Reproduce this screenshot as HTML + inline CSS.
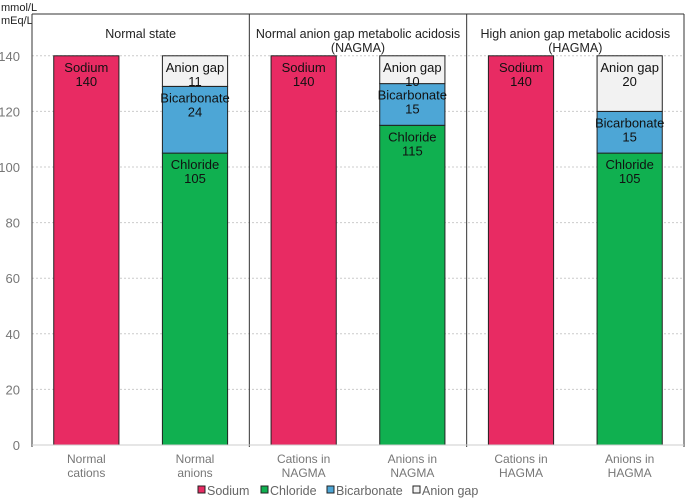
<!DOCTYPE html>
<html><head><meta charset="utf-8"><style>
body{margin:0;background:#fff;font-family:"Liberation Sans",sans-serif}
svg text{font-family:"Liberation Sans",sans-serif}
</style></head><body>
<svg id="chart" width="685" height="498" xmlns="http://www.w3.org/2000/svg">
<text x="1" y="11" font-size="11" fill="#222">mmol/L</text>
<text x="1" y="24" font-size="11" fill="#222">mEq/L</text>
<g id="grid"></g>
<g id="bars"></g>
<g id="labels"></g>
<g id="frame"></g>
</svg>
<script>
const categories=["Normal cations","Normal anions","Cations in NAGMA","Anions in NAGMA","Cations in HAGMA","Anions in HAGMA"];
const catLines=[["Normal","cations"],["Normal","anions"],["Cations in","NAGMA"],["Anions in","NAGMA"],["Cations in","HAGMA"],["Anions in","HAGMA"]];
const sodium=[140,0,140,0,140,0];
const chloride=[0,105,0,115,0,105];
const bicarbonate=[0,24,0,15,0,15];
const aniongap=[0,11,0,10,0,20];
const yTicks=[0,20,40,60,80,100,120,140];
const panelTitles=[["Normal state"],["Normal anion gap metabolic acidosis","(NAGMA)"],["High anion gap metabolic acidosis","(HAGMA)"]];
const seriesNames=["Sodium","Chloride","Bicarbonate","Anion gap"];
const seriesData=[sodium,chloride,bicarbonate,aniongap];
const colors=["#E82B63","#10B050","#4DA6D6","#F2F2F2"];
const NS="http://www.w3.org/2000/svg";
const L=32,R=684,T=14,B=445,perUnit=2.78;
const y=v=>B-v*perUnit;
const band=(R-L)/categories.length;
const xc=i=>L+band*(i+0.5);
const bw=band*0.6;
function mk(tag,attrs,parent,txt){const e=document.createElementNS(NS,tag);for(const k in attrs)e.setAttribute(k,attrs[k]);if(txt!==undefined)e.textContent=txt;parent.appendChild(e);return e;}
const grid=document.getElementById('grid'),bars=document.getElementById('bars'),labels=document.getElementById('labels'),frame=document.getElementById('frame');
yTicks.forEach(t=>{
  if(t>0){const g=mk('line',{x1:L,x2:R,y1:y(t),y2:y(t),stroke:'#ccc','stroke-dasharray':'2,2'},grid);
  
  }
  const tx=mk('text',{x:20,y:y(t)+5,'font-size':13,fill:'#777','text-anchor':'end'},grid,String(t));
  
  
});
categories.forEach((c,i)=>{
  let base=0;
  seriesData.forEach((s,k)=>{
    const v=s[i]; if(!v)return;
    const r=mk('rect',{x:xc(i)-bw/2,y:y(base+v),width:bw,height:v*perUnit,fill:colors[k],stroke:'#222','stroke-width':1},bars);
    
    
    const top=y(base+v);
    const t1=mk('text',{x:xc(i),y:top+16,'font-size':13,fill:'#111','text-anchor':'middle'},labels,seriesNames[k]);
    
    
    const t2=mk('text',{x:xc(i),y:top+30,'font-size':13,fill:'#111','text-anchor':'middle'},labels,String(v));
    
    
    base+=v;
  });
  catLines[i].forEach((ln,j)=>{
    const t=mk('text',{x:xc(i),y:463+j*14,'font-size':12,fill:'#777','text-anchor':'middle'},frame,ln);
    
    
  });
});
[[L,T,R,T],[L,T,L,B+2],[R,T,R,B+2],[L+band*2,T,L+band*2,B+2],[L+band*4,T,L+band*4,B+2]].forEach((p,i)=>{
  const l=mk('line',{x1:p[0],y1:p[1],x2:p[2],y2:p[3],stroke:'#333','stroke-width':1},frame);
  
  
});
const ax=mk('line',{x1:L,x2:R,y1:B,y2:B,stroke:'#ccc'},frame);


panelTitles.forEach((pt,p)=>{
  pt.forEach((ln,j)=>{
    const t=mk('text',{x:L+band*(2*p+1),y:38+j*14,'font-size':12.5,fill:'#222','text-anchor':'middle'},frame,ln);
    
    
  });
});
const lx=[198,261,327,413];
seriesNames.forEach((n,k)=>{
  const g=mk('g',{},frame);
  
  
  mk('rect',{x:lx[k],y:486,width:7,height:7,fill:colors[k],stroke:'#222'},g);
  mk('text',{x:lx[k]+9,y:495,'font-size':12.5,fill:'#666'},g,n);
});
</script>
</body></html>
